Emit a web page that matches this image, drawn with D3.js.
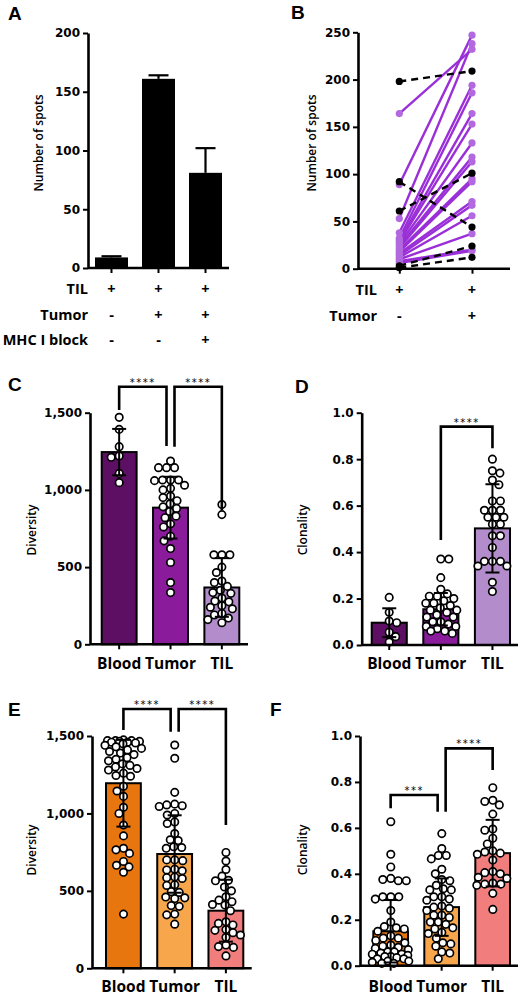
<!DOCTYPE html>
<html><head><meta charset="utf-8">
<script src="https://cdn.jsdelivr.net/npm/d3@7"></script>
<style>body{margin:0;background:#fff} svg{display:block}</style>
</head><body>
<svg id="c" width="520" height="996"></svg>
<script>
// ---------------- DATA ----------------
// Panel A
const aConditions = ["c1", "c2", "c3"];
const aMeans = [9, 161, 81];
const aUpper = [10, 164, 102];
const aTicks = [0, 50, 100, 150, 200];
const aRowLabels = ["TIL", "Tumor", "MHC I block"];
const aSigns = [["+", "+", "+"], ["-", "+", "+"], ["-", "-", "+"]];

// Panel B (paired before / after)
const bTicks = [0, 50, 100, 150, 200, 250];
const bConditions = ["before", "after"];
const bPurpleBefore = [164, 89, 53, 38, 32, 30, 28, 26, 24, 22, 20, 18, 16, 14, 12, 10, 8, 6];
const bPurpleAfter  = [232, 247, 238, 194, 186, 164, 153, 133, 118, 113, 95, 92, 71, 67, 56, 37, 20, 19];
const bBlackBefore = [198, 92, 61, 3, 1];
const bBlackAfter  = [209, 44, 101, 24, 12];
const bRowLabels = ["TIL", "Tumor"];
const bSigns = [["+", "+"], ["-", "+"]];

const groups = ["Blood", "Tumor", "TIL"];

// Panel C (Diversity)
const cTicks = [0, 500, 1000, 1500];
const cMeans = [1245, 885, 368];
const cSD = [150, 200, 190];
const cBlood = [1470, 1392, 1280, 1220, 1211, 1107, 1047];
const cTumor = [1187, 1144, 1144, 1144, 1064, 1064, 1064, 1060, 1030, 1010, 1000, 960, 950, 930, 910, 890, 880, 860, 830, 820, 780, 760, 700, 670, 620, 530, 400, 335];
const cTIL = [905, 840, 580, 580, 580, 500, 465, 410, 400, 375, 350, 335, 330, 300, 280, 275, 250, 240, 230, 200, 190, 170, 160, 140];

// Panel D (Clonality)
const dTicks = [0, 0.2, 0.4, 0.6, 0.8, 1.0];
const dMeans = [0.096, 0.154, 0.502];
const dSD = [0.062, 0.07, 0.19];
const dBlood = [0.205, 0.141, 0.103, 0.096, 0.055, 0.036, 0.013];
const dTumor = [0.37, 0.37, 0.29, 0.24, 0.22, 0.21, 0.21, 0.20, 0.19, 0.18, 0.18, 0.17, 0.16, 0.15, 0.15, 0.14, 0.13, 0.12, 0.12, 0.10, 0.10, 0.09, 0.08, 0.08, 0.07, 0.06, 0.06, 0.05];
const dTIL = [0.80, 0.75, 0.74, 0.71, 0.69, 0.62, 0.62, 0.58, 0.58, 0.58, 0.55, 0.55, 0.55, 0.52, 0.52, 0.47, 0.47, 0.42, 0.36, 0.36, 0.36, 0.34, 0.34, 0.27, 0.23];

// Panel E (Diversity)
const eTicks = [0, 500, 1000, 1500];
const eMeans = [1195, 738, 372];
const eSD = [280, 250, 200];
const eBlood = [1475, 1470, 1470, 1470, 1465, 1465, 1460, 1460, 1455, 1450, 1440, 1430, 1420, 1410, 1400, 1390, 1380, 1360, 1350, 1340, 1320, 1310, 1300, 1290, 1280, 1260, 1245, 1240, 1175, 1145, 1110, 1040, 1000, 925, 855, 775, 765, 742, 690, 665, 655, 620, 350];
const eTumor = [1442, 1356, 1136, 1060, 1055, 1050, 1045, 1000, 990, 945, 935, 870, 830, 825, 785, 780, 775, 700, 700, 695, 640, 635, 630, 590, 585, 580, 540, 535, 495, 490, 460, 455, 450, 405, 400, 350, 345, 285];
const eTIL = [748, 693, 638, 595, 568, 565, 525, 500, 462, 440, 430, 412, 408, 372, 300, 290, 280, 250, 245, 230, 215, 200, 150, 140, 135, 80];

// Panel F (Clonality)
const fTicks = [0, 0.2, 0.4, 0.6, 0.8, 1.0];
const fMeans = [0.15, 0.255, 0.49];
const fSD = [0.136, 0.125, 0.145];
const fBlood = [0.627, 0.485, 0.43, 0.38, 0.375, 0.37, 0.37, 0.30, 0.30, 0.30, 0.29, 0.24, 0.19, 0.17, 0.165, 0.16, 0.15, 0.13, 0.12, 0.12, 0.11, 0.10, 0.09, 0.085, 0.08, 0.075, 0.07, 0.06, 0.06, 0.055, 0.05, 0.05, 0.045, 0.04, 0.04, 0.035, 0.03, 0.03, 0.02, 0.02, 0.015, 0.01, 0.01];
const fTumor = [0.575, 0.51, 0.48, 0.48, 0.465, 0.42, 0.40, 0.375, 0.37, 0.35, 0.335, 0.33, 0.33, 0.30, 0.30, 0.29, 0.285, 0.26, 0.255, 0.25, 0.24, 0.22, 0.22, 0.21, 0.19, 0.19, 0.18, 0.165, 0.16, 0.145, 0.14, 0.12, 0.10, 0.095, 0.085, 0.06, 0.055, 0.03];
const fTIL = [0.775, 0.72, 0.715, 0.70, 0.66, 0.595, 0.59, 0.555, 0.53, 0.50, 0.495, 0.49, 0.485, 0.46, 0.41, 0.405, 0.40, 0.385, 0.38, 0.36, 0.355, 0.355, 0.35, 0.315, 0.245];

// significance brackets: [fromGroup, toGroup, label, topValue, fromLegEnd, toLegEnd]
const cSig = [["Blood", "Tumor", "****", 1668, 1517, 1284], ["Tumor", "TIL", "****", 1668, 1280, 870]];
const dSig = [["Tumor", "TIL", "****", 0.94, 0.452, 0.847]];
const eSig = [["Blood", "Tumor", "****", 1674, 1539, 1528], ["Tumor", "TIL", "****", 1674, 1528, 925]];
const fSig = [["Blood", "Tumor", "***", 0.743, 0.685, 0.67], ["Tumor", "TIL", "****", 0.946, 0.67, 0.852]];

// ---------------- DRAWING ----------------
const svg = d3.select("#c");
const TICKF = "'DejaVu Sans', Verdana, sans-serif";
const LABF = "'Open Sans', sans-serif";
const purpleCols = ["#5d0f63", "#8a1c9c", "#b38ccb"];
const orangeCols = ["#e8760f", "#f7a64b", "#f27d7d"];

function yAxis(scale, x, ticks, fmt) {
  const g = svg.append("g").attr("transform", `translate(${x},0)`)
    .call(d3.axisLeft(scale).tickValues(ticks).tickSize(5).tickSizeOuter(0).tickPadding(3).tickFormat(fmt));
  g.select(".domain").attr("stroke", "#000").attr("stroke-width", 2.6);
  g.selectAll(".tick line").attr("stroke", "#000").attr("stroke-width", 2);
  g.selectAll(".tick text").attr("font-family", TICKF).attr("font-weight", "bold")
    .attr("font-size", 12).attr("fill", "#000");
  return g;
}
function xAxis(scale, y, x0, x1) {
  svg.append("line").attr("x1", x0).attr("x2", x1).attr("y1", y).attr("y2", y)
    .attr("stroke", "#000").attr("stroke-width", 2.6);
  const g = svg.append("g").attr("transform", `translate(0,${y})`)
    .call(d3.axisBottom(scale).tickSize(5).tickSizeOuter(0).tickFormat(""));
  g.select(".domain").remove();
  g.selectAll(".tick line").attr("stroke", "#000").attr("stroke-width", 2);
  if (scale.bandwidth) g.selectAll(".tick").attr("transform", d => `translate(${scale(d) + scale.bandwidth() / 2},0)`);
}
function panelLetter(t, x, y) {
  svg.append("text").attr("x", x).attr("y", y).text(t)
    .attr("font-family", "'Liberation Sans', Arial, sans-serif").attr("font-weight", "bold").attr("font-size", 19);
}
function yTitle(t, x, y) {
  svg.append("text").attr("transform", `translate(${x},${y}) rotate(-90)`).attr("text-anchor", "middle")
    .text(t).attr("font-family", LABF).attr("font-size", 12).attr("font-weight", 600).attr("fill", "#000");
}

// swarm layout for scatter points (computed from values through the y scale)
function swarm(values, y, cx, r, maxOff) {
  const d = 2 * r * 0.98;
  const pts = values.map(v => ({ v, y: y(v) })).sort((a, b) => a.y - b.y);
  const placed = [];
  for (const p of pts) {
    let best = 0, bestScore = Infinity;
    for (let off = -maxOff; off <= maxOff + 1e-9; off += 0.5) {
      let overlap = 0;
      for (const q of placed) {
        const dist = Math.hypot(q.x - (cx + off), q.y - p.y);
        if (dist < d) overlap = Math.max(overlap, d - dist);
      }
      const score = overlap * 100 + Math.abs(off);
      if (score < bestScore) { bestScore = score; best = off; }
    }
    p.x = cx + best;
    placed.push(p);
  }
  return placed;
}

function dotPanel(cfg) {
  const y = d3.scaleLinear().domain(cfg.domain).range([cfg.y0, cfg.yTop]);
  const x = d3.scaleBand().domain(groups).range(cfg.xr).paddingInner(0.32).paddingOuter(0);
  const cx = g => x(g) + x.bandwidth() / 2;
  // bars
  svg.append("g").selectAll("rect").data(groups).join("rect")
    .attr("x", g => x(g)).attr("width", x.bandwidth())
    .attr("y", (g, i) => y(cfg.means[i])).attr("height", (g, i) => y(0) - y(cfg.means[i]))
    .attr("fill", (g, i) => cfg.colors[i]).attr("stroke", "#000").attr("stroke-width", 2);
  // dots
  groups.forEach((g, i) => {
    const pts = swarm(cfg.points[i], y, cx(g), 3.9, x.bandwidth() / 2 + 1);
    svg.append("g").selectAll("circle").data(pts).join("circle")
      .attr("cx", p => p.x).attr("cy", p => p.y).attr("r", 3.7)
      .attr("fill", "#fff").attr("stroke", "#000").attr("stroke-width", 1.7);
  });
  // error bars (mean ± SD)
  groups.forEach((g, i) => {
    const c = cx(g), hi = y(cfg.means[i] + cfg.sd[i]), lo = y(Math.max(0, cfg.means[i] - cfg.sd[i]));
    const eg = svg.append("g").attr("stroke", "#000").attr("stroke-width", 2);
    eg.append("line").attr("x1", c).attr("x2", c).attr("y1", hi).attr("y2", lo);
    eg.append("line").attr("x1", c - 7).attr("x2", c + 7).attr("y1", hi).attr("y2", hi);
    eg.append("line").attr("x1", c - 7).attr("x2", c + 7).attr("y1", lo).attr("y2", lo);
  });
  yAxis(y, cfg.ax, cfg.ticks, cfg.fmt);
  xAxis(x, cfg.y0, cfg.ax, cfg.axEnd);
  // category labels
  svg.append("g").selectAll("text").data(groups).join("text")
    .attr("x", g => cx(g)).attr("y", cfg.labY).attr("text-anchor", "middle").text(g => g)
    .attr("font-family", LABF).attr("font-weight", "bold").attr("font-size", 15.5);
  // significance brackets
  cfg.sig.forEach(s => {
    const shared = cfg.sig.length > 1;
    let x1 = cx(s[0]), x2 = cx(s[1]);
    if (shared && s[1] === "Tumor") x2 -= 4;
    if (shared && s[0] === "Tumor") x1 += 4;
    const top = y(s[3]);
    svg.append("path").attr("d", `M${x1},${y(s[4])}V${top}H${x2}V${y(s[5])}`)
      .attr("fill", "none").attr("stroke", "#000").attr("stroke-width", 2.6);
    svg.append("text").attr("x", (x1 + x2) / 2).attr("y", top - 1).attr("text-anchor", "middle")
      .text(s[2]).attr("font-family", TICKF).attr("font-size", 10).attr("letter-spacing", 1.5);
  });
  panelLetter(cfg.letter, cfg.lx, cfg.ly);
  yTitle(cfg.title, cfg.tx, cfg.ty);
}

// ---- Panel A ----
{
  const y = d3.scaleLinear().domain([0, 200]).range([268, 33]);
  const x = d3.scaleBand().domain(aConditions).range([95, 222]).paddingInner(0.298).paddingOuter(0);
  const cx = c => x(c) + x.bandwidth() / 2;
  svg.append("g").selectAll("rect").data(aConditions).join("rect")
    .attr("x", c => x(c)).attr("width", x.bandwidth())
    .attr("y", (c, i) => y(aMeans[i])).attr("height", (c, i) => y(0) - y(aMeans[i])).attr("fill", "#000");
  aConditions.forEach((c, i) => {
    const eg = svg.append("g").attr("stroke", "#000").attr("stroke-width", 2.2);
    eg.append("line").attr("x1", cx(c)).attr("x2", cx(c)).attr("y1", y(aMeans[i])).attr("y2", y(aUpper[i]));
    eg.append("line").attr("x1", cx(c) - 10).attr("x2", cx(c) + 10).attr("y1", y(aUpper[i])).attr("y2", y(aUpper[i]));
  });
  yAxis(y, 88, aTicks, d3.format("d"));
  xAxis(x, 268, 88, 229);
  const rowY = [293.5, 319.5, 345];
  aRowLabels.forEach((l, r) => {
    svg.append("text").attr("x", 88).attr("y", rowY[r]).attr("text-anchor", "end").text(l)
      .attr("font-family", LABF).attr("font-weight", "bold").attr("font-size", 14.5);
    aConditions.forEach((c, i) => {
      svg.append("text").attr("x", cx(c)).attr("y", rowY[r]).attr("text-anchor", "middle").text(aSigns[r][i])
        .attr("font-family", LABF).attr("font-weight", "bold").attr("font-size", 14.5);
    });
  });
  panelLetter("A", 8, 20);
  yTitle("Number of spots", 43, 143);
}

// ---- Panel B ----
{
  const y = d3.scaleLinear().domain([0, 250]).range([268.7, 32.3]);
  const x = d3.scalePoint().domain(bConditions).range([399.3, 472]);
  const g = svg.append("g");
  bPurpleBefore.forEach((v, i) => {
    g.append("line").attr("x1", x("before")).attr("x2", x("after")).attr("y1", y(v)).attr("y2", y(bPurpleAfter[i]))
      .attr("stroke", "#9a2fd8").attr("stroke-width", 2.4);
  });
  bPurpleBefore.forEach((v, i) => {
    g.append("circle").attr("cx", x("before")).attr("cy", y(v)).attr("r", 3.6).attr("fill", "#b268de");
    g.append("circle").attr("cx", x("after")).attr("cy", y(bPurpleAfter[i])).attr("r", 3.6).attr("fill", "#b268de");
  });
  bBlackBefore.forEach((v, i) => {
    g.append("line").attr("x1", x("before")).attr("x2", x("after")).attr("y1", y(v)).attr("y2", y(bBlackAfter[i]))
      .attr("stroke", "#000").attr("stroke-width", 2.4).attr("stroke-dasharray", "7,5");
    g.append("circle").attr("cx", x("before")).attr("cy", y(v)).attr("r", 3.6).attr("fill", "#000");
    g.append("circle").attr("cx", x("after")).attr("cy", y(bBlackAfter[i])).attr("r", 3.6).attr("fill", "#000");
  });
  yAxis(y, 358, bTicks, d3.format("d"));
  svg.append("line").attr("x1", 358).attr("x2", 510).attr("y1", 268.7).attr("y2", 268.7)
    .attr("stroke", "#000").attr("stroke-width", 2.6);
  const ga = svg.append("g").attr("transform", "translate(0,268.7)")
    .call(d3.axisBottom(x).tickSize(5).tickFormat(""));
  ga.select(".domain").remove();
  ga.selectAll(".tick line").attr("stroke", "#000").attr("stroke-width", 2);
  const rowY = [295, 320.5];
  bRowLabels.forEach((l, r) => {
    svg.append("text").attr("x", 377).attr("y", rowY[r]).attr("text-anchor", "end").text(l)
      .attr("font-family", LABF).attr("font-weight", "bold").attr("font-size", 14.5);
    bConditions.forEach((c, i) => {
      svg.append("text").attr("x", x(c)).attr("y", rowY[r]).attr("text-anchor", "middle").text(bSigns[r][i])
        .attr("font-family", LABF).attr("font-weight", "bold").attr("font-size", 14.5);
    });
  });
  panelLetter("B", 291, 19);
  yTitle("Number of spots", 316, 143);
}

// ---- Panels C-F ----
dotPanel({ letter: "C", lx: 8, ly: 391, title: "Diversity", tx: 36, ty: 530,
  domain: [0, 1500], y0: 644.3, yTop: 412.7, ax: 90, axEnd: 248, xr: [101.7, 239.3],
  ticks: cTicks, fmt: d3.format(","), means: cMeans, sd: cSD, points: [cBlood, cTumor, cTIL],
  colors: purpleCols, labY: 668.5, sig: cSig });
dotPanel({ letter: "D", lx: 295, ly: 393, title: "Clonality", tx: 307, ty: 530,
  domain: [0, 1], y0: 645, yTop: 412.7, ax: 361.7, axEnd: 518, xr: [371.7, 510],
  ticks: dTicks, fmt: d3.format(".1f"), means: dMeans, sd: dSD, points: [dBlood, dTumor, dTIL],
  colors: purpleCols, labY: 668.5, sig: dSig });
dotPanel({ letter: "E", lx: 8, ly: 716, title: "Diversity", tx: 36, ty: 850,
  domain: [0, 1500], y0: 968.3, yTop: 736, ax: 92, axEnd: 251.7, xr: [106, 243.3],
  ticks: eTicks, fmt: d3.format(","), means: eMeans, sd: eSD, points: [eBlood, eTumor, eTIL],
  colors: orangeCols, labY: 992, sig: eSig });
dotPanel({ letter: "F", lx: 270, ly: 716, title: "Clonality", tx: 307, ty: 850,
  domain: [0, 1], y0: 965.7, yTop: 736, ax: 360, axEnd: 518, xr: [373.3, 510],
  ticks: fTicks, fmt: d3.format(".1f"), means: fMeans, sd: fSD, points: [fBlood, fTumor, fTIL],
  colors: orangeCols, labY: 992, sig: fSig });
</script>
</body></html>
